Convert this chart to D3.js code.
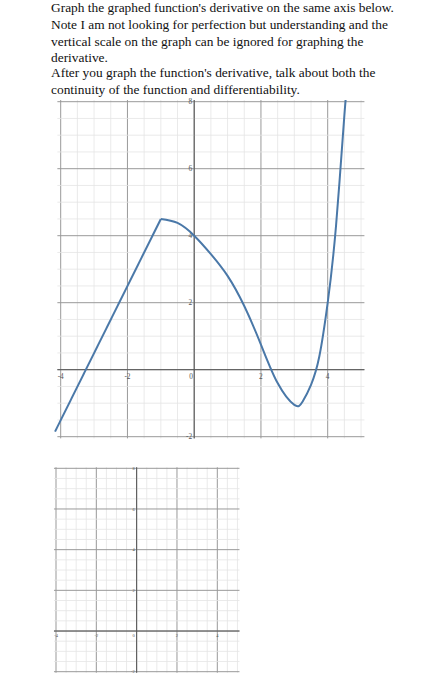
<!DOCTYPE html><html><head><meta charset="utf-8">
<script src="https://cdn.jsdelivr.net/npm/d3@7"></script>
<style>body{margin:0;background:#fff}text{font-family:"Liberation Serif","Times New Roman",serif}</style></head><body>
<svg id="c" width="440" height="700"></svg>
<script>
const promptLines1=["Graph the graphed function's derivative on the same axis below.","Note I am not looking for perfection but understanding and the","vertical scale on the graph can be ignored for graphing the","derivative."];
const promptLines2=["After you graph the function's derivative, talk about both the","continuity of the function and differentiability."];
const xTicks=[-4,-2,0,2,4];
const yTicks=[-2,2,4,6,8];
const linearX=[-4.17,-1];
const linearY=[-1.85,4.5];
const curveX=[-1,-0.5,0,0.5,1,1.5,2,2.5,3,3.25,3.5,3.75,4,4.25,4.5,4.6];
const curveY=[4.5,4.38,4,3.45,2.8,1.9,0.75,-0.4,-1.05,-0.95,-0.45,0.4,2,4.3,7.6,8.6];

const svg=d3.select("#c");
const t=svg.append("g").attr("font-size",13.4).attr("fill","#111");
promptLines1.forEach((s,i)=>t.append("text").attr("x",51).attr("y",12+i*16.8).text(s));
promptLines2.forEach((s,i)=>t.append("text").attr("x",51).attr("y",77+i*16.8).text(s));

function grid(x0,x1,y0,y1){
  const x=d3.scaleLinear().domain([-4,4]).range([x0,x1]);
  const y=d3.scaleLinear().domain([-2,8]).range([y1,y0]);
  const g=svg.append("g");
  const xr=[-4.1,5.1], yr=[-2.05,8.05];
  const minor=d3.range(-4,5.01,0.5), minorY=d3.range(-2,8.01,0.5);
  minor.forEach(v=>g.append("line").attr("x1",x(v)).attr("x2",x(v)).attr("y1",y(yr[0])).attr("y2",y(yr[1])).attr("stroke",v%2===0?"#999":"#e4e4e4").attr("stroke-width",v%2===0?1:0.8));
  minorY.forEach(v=>g.append("line").attr("y1",y(v)).attr("y2",y(v)).attr("x1",x(xr[0])).attr("x2",x(xr[1])).attr("stroke",v%2===0?"#999":"#e4e4e4").attr("stroke-width",v%2===0?1:0.8));
  g.append("line").attr("x1",x(0)).attr("x2",x(0)).attr("y1",y(yr[0])).attr("y2",y(yr[1])).attr("stroke","#555");
  g.append("line").attr("y1",y(0)).attr("y2",y(0)).attr("x1",x(xr[0])).attr("x2",x(xr[1])).attr("stroke","#555");
  const fs=(x1-x0)/8*0.22;
  xTicks.forEach(v=>g.append("text").attr("x",x(v)+(v===0?-3:0)).attr("y",y(0)+fs+2).attr("text-anchor","middle").attr("font-family","Arial,sans-serif").attr("font-size",fs).attr("fill","#555").text(v));
  yTicks.forEach(v=>g.append("text").attr("x",x(0)-2).attr("y",y(v)+fs*0.35).attr("text-anchor","end").attr("font-family","Arial,sans-serif").attr("font-size",fs).attr("fill","#555").text(v));
  return {x,y};
}
const topG=grid(60.7,327.7,101.7,436.7);
grid(56,217.3,468.3,671.7);
svg.append("defs").append("clipPath").attr("id","cl").append("rect").attr("x",50).attr("y",topG.y(8.05)).attr("width",320).attr("height",topG.y(-2.05)-topG.y(8.05)+4);
const lg=svg.append("g").attr("clip-path","url(#cl)");
lg.append("path").attr("d",d3.line().x((d,i)=>topG.x(linearX[i])).y((d,i)=>topG.y(linearY[i]))(linearX)).attr("fill","none").attr("stroke","#4a78a8").attr("stroke-width",2);
lg.append("path").attr("d",d3.line().curve(d3.curveNatural).x((d,i)=>topG.x(curveX[i])).y((d,i)=>topG.y(curveY[i]))(curveX)).attr("fill","none").attr("stroke","#4a78a8").attr("stroke-width",2);
</script></body></html>
